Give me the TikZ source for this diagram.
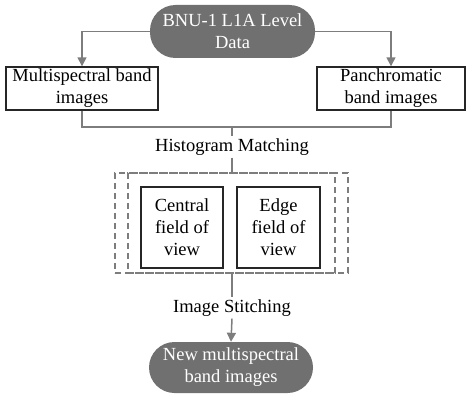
\documentclass[tikz,border=0pt]{standalone}
\usepackage{fontspec}
\setmainfont{Liberation Serif}
\usetikzlibrary{arrows.meta}
\definecolor{lgray}{RGB}{125,125,125}
\definecolor{sgray}{RGB}{112,112,112}
\tikzset{
  base/.style={font=\fontsize{18.5}{22}\selectfont, align=center, inner sep=0pt},
  stadium/.style={base, fill=sgray, text=white, rounded corners=25.5pt},
  boxnode/.style={base, draw=black!85, line width=1.4pt},
  dashbox/.style={draw=lgray, line width=1.2pt, dash pattern=on 6pt off 4pt},
  conn/.style={draw=lgray, line width=1.5pt},
  arr/.style={conn, -{Triangle[length=9pt,width=9pt]}},
  lbl/.style={base, inner sep=2pt}
}
\begin{document}
\begin{tikzpicture}[x=1pt,y=-1pt]
\useasboundingbox (0,0) rectangle (474,404);
\node[stadium, minimum width=165pt, minimum height=53pt] (top) at (232.5,31.5) {BNU-1 L1A Level\\Data};
\node[boxnode, minimum width=152pt, minimum height=43pt] (left) at (82,88.5) {Multispectral band\\images};
\node[boxnode, minimum width=148pt, minimum height=43pt] (right) at (391,88.5) {Panchromatic\\band images};
\coordinate (j) at (232,127);
\node[lbl] (hm) at (232,147) {Histogram Matching};
\node[dashbox, minimum width=220pt, minimum height=100pt] (d1) at (225,223) {};
\node[dashbox, minimum width=220pt, minimum height=100pt] (d2) at (238,223) {};
\node[boxnode, minimum width=82pt, minimum height=81pt] (cen) at (182,227.5) {Central\\field of\\view};
\node[boxnode, minimum width=83pt, minimum height=81pt] (edge) at (278.5,227.5) {Edge\\field of\\view};
\node[lbl] (is) at (232,308) {Image Stitching};
\node[stadium, minimum width=164pt, minimum height=51pt] (bot) at (231,367.5) {New multispectral\\band images};
\draw[arr] (top.west) -| (left.north);
\draw[arr] (top.east) -| (right.north);
\draw[conn] (left.south) |- (j) -| (right.south);
\draw[conn] (j) -- (hm.north);
\draw[conn] (hm.south) -- (hm.south |- d1.north);
\draw[conn] (is.north |- d1.south) -- (is.north);
\draw[arr] (is.south) -- (bot.north);
\end{tikzpicture}
\end{document}
